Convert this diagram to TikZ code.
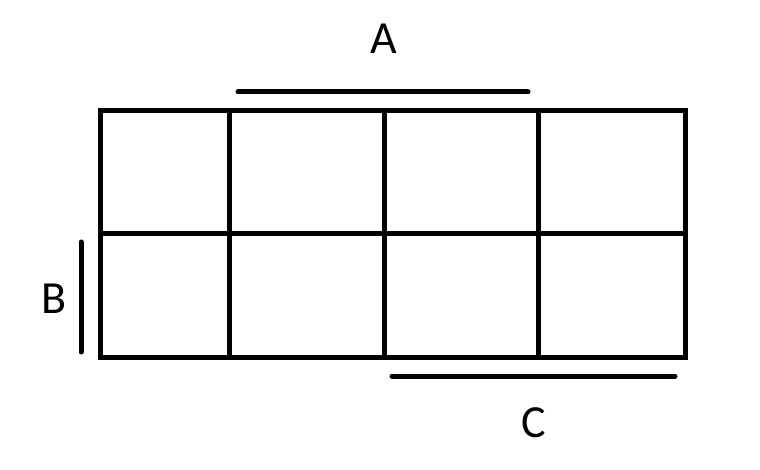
\documentclass[tikz,border=0pt]{standalone}
\usepackage{fontspec}
\setmainfont{Carlito}
\begin{document}
\begin{tikzpicture}[x=1pt,y=-1pt,
  gridline/.style={line width=5pt},
  barline/.style={line width=5pt,line cap=round},
  lbl/.style={font=\fontsize{46}{50}\selectfont,inner sep=0pt,anchor=center}]
\useasboundingbox (0,0) rectangle (760,470);
% grid
\coordinate (tl) at (100,110.5);
\coordinate (br) at (685,357.5);
\draw[gridline] (tl) rectangle (br);
\draw[gridline] (100,233.5) -- (685,233.5);
\draw[gridline] (229,110.5) -- (229,357.5);
\draw[gridline] (384,110.5) -- (384,357.5);
\draw[gridline] (538.5,110.5) -- (538.5,357.5);
% bars
\coordinate (a1) at (238,92);
\coordinate (a2) at (528,92);
\coordinate (b1) at (81,242);
\coordinate (b2) at (81,352);
\coordinate (c1) at (392,376);
\coordinate (c2) at (675,376);
\draw[barline] (a1) -- (a2);
\draw[barline] (b1) -- (b2);
\draw[barline] (c1) -- (c2);
% labels
\node[lbl] (A) at (383.5,38.5) {A};
\node[lbl] (B) at (54,298.5) {B};
\node[lbl] (C) at (533.5,423) {C};
\end{tikzpicture}
\end{document}
